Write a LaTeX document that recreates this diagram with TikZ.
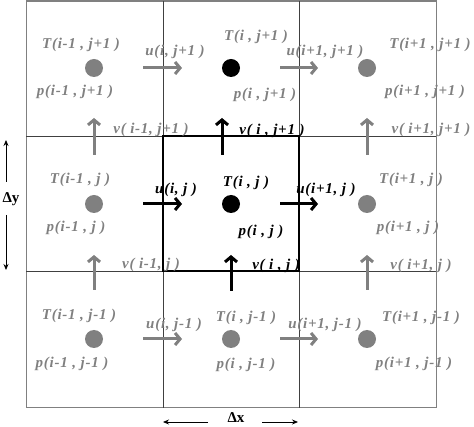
\documentclass[tikz,border=0pt]{standalone}
\usepackage{fontspec}
\setmainfont{Liberation Serif}
\newfontfamily\lblfont[LetterSpace=5]{Liberation Serif}
\usetikzlibrary{arrows.meta}
\definecolor{cellgray}{RGB}{128,128,128}
\begin{document}
\begin{tikzpicture}[x=1pt,y=-1pt,
  lbl/.style={font=\lblfont\fontsize{15}{15}\selectfont\bfseries\itshape, inner sep=0pt},
  glbl/.style={lbl, text=cellgray},
  garrow/.style={cellgray, line width=3pt, -{Straight Barb[length=5pt,width=12pt]}},
  barrow/.style={black, line width=3pt, -{Straight Barb[length=5pt,width=12pt]}},
  gdot/.style={circle, fill=cellgray, minimum size=18pt, inner sep=0pt},
  bdot/.style={circle, fill=black, minimum size=18pt, inner sep=0pt},
  darrow/.style={black, line width=0.8pt, -{Stealth[length=6pt,width=5pt]}}]
\useasboundingbox (0,0) rectangle (474,427);

% grid
\draw[cellgray, line width=1pt] (26,1) rectangle (436,408);
\draw[cellgray, line width=2pt] (26,1) -- (436,1);
\draw[black!75, line width=0.8pt] (163,1) -- (163,408);
\draw[black!75, line width=0.8pt] (299,1) -- (299,408);
\draw[black!75, line width=0.8pt] (26,136) -- (436,136);
\draw[black!75, line width=0.8pt] (26,271) -- (436,271);
\draw[black, line width=1.5pt] (163,136) rectangle (299,271);

% cell centres
\node[gdot] (c11) at (94,68) {};
\node[bdot] (c21) at (231,68) {};
\node[gdot] (c31) at (367,68) {};
\node[gdot] (c12) at (94,204) {};
\node[bdot] (c22) at (231,204) {};
\node[gdot] (c32) at (367,204) {};
\node[gdot] (c13) at (94,339) {};
\node[gdot] (c23) at (231,339) {};
\node[gdot] (c33) at (367,339) {};

% top row
\node[glbl] (T11) at (81,45) {T(i-1 , j+1 )};
\node[glbl] (p11) at (75,92) {p(i-1 , j+1 )};
\node[glbl] (T21) at (256,37) {T(i , j+1 )};
\node[glbl] (p21) at (265,95) {p(i , j+1 )};
\node[glbl] (T31) at (430,45) {T(i+1 , j+1 )};
\node[glbl] (p31) at (425,92) {p(i+1 , j+1 )};
\node[glbl] (u21) at (175,52) {u(i, j+1 )};
\node[glbl] (u31) at (325,52) {u(i+1, j+1 )};
\draw[garrow] (143,68) -- (182,68);
\draw[garrow] (280,68) -- (318,68);

% v on line j+1/2
\draw[garrow] (94,155) -- (94,118);
\node[glbl] (v11) at (151,130) {v( i-1, j+1 )};
\draw[barrow] (222,155) -- (222,118);
\node[lbl] (v21) at (272,131) {v( i , j+1 )};
\draw[garrow] (367,155) -- (367,118);
\node[glbl] (v31) at (431,130) {v( i+1, j+1 )};

% middle row
\node[glbl] (T12) at (80,180) {T(i-1 , j )};
\node[glbl] (p12) at (76,228) {p(i-1 , j )};
\node[lbl] (T22) at (246,183) {T(i , j )};
\node[lbl] (p22) at (261,232) {p(i , j )};
\node[glbl] (T32) at (411,180) {T(i+1 , j )};
\node[glbl] (p32) at (408,228) {p(i+1 , j )};
\node[lbl] (u22) at (176,190) {u(i, j )};
\node[lbl] (u32) at (326,190) {u(i+1, j )};
\draw[barrow] (143,204) -- (182,204);
\draw[barrow] (280,204) -- (318,204);

% v on line j-1/2
\draw[garrow] (94,290) -- (94,255);
\node[glbl] (v12) at (151,265) {v( i-1, j )};
\draw[barrow] (231,291) -- (231,255);
\node[lbl] (v22) at (276,266) {v( i , j )};
\draw[garrow] (367,290) -- (367,255);
\node[glbl] (v32) at (421,266) {v( i+1, j )};

% bottom row
\node[glbl] (T13) at (79,316) {T(i-1 , j-1 )};
\node[glbl] (p13) at (72,364) {p(i-1 , j-1 )};
\node[glbl] (T23) at (246,318) {T(i , j-1 )};
\node[glbl] (p23) at (246,365) {p(i , j-1 )};
\node[glbl] (T33) at (421,318) {T(i+1 , j-1 )};
\node[glbl] (p33) at (414,364) {p(i+1 , j-1 )};
\node[glbl] (u23) at (174,325) {u(i, j-1 )};
\node[glbl] (u33) at (325,325) {u(i+1, j-1 )};
\draw[garrow] (143,339) -- (182,339);
\draw[garrow] (280,339) -- (318,339);

% spacings
\node[font=\fontsize{15}{15}\selectfont\bfseries, inner sep=0pt] (dy) at (11,199) {Δy};
\coordinate (dytop) at (6,140);
\coordinate (dybot) at (6,270);
\draw[darrow] (6,182) -- (dytop);
\draw[darrow] (6,215) -- (dybot);
\node[font=\fontsize{15}{15}\selectfont\bfseries, inner sep=0pt] (dx) at (236,418) {Δx};
\coordinate (dxleft) at (163,422);
\coordinate (dxright) at (298,422);
\draw[darrow] (208,422) -- (dxleft);
\draw[darrow] (262,422) -- (dxright);
\end{tikzpicture}
\end{document}
